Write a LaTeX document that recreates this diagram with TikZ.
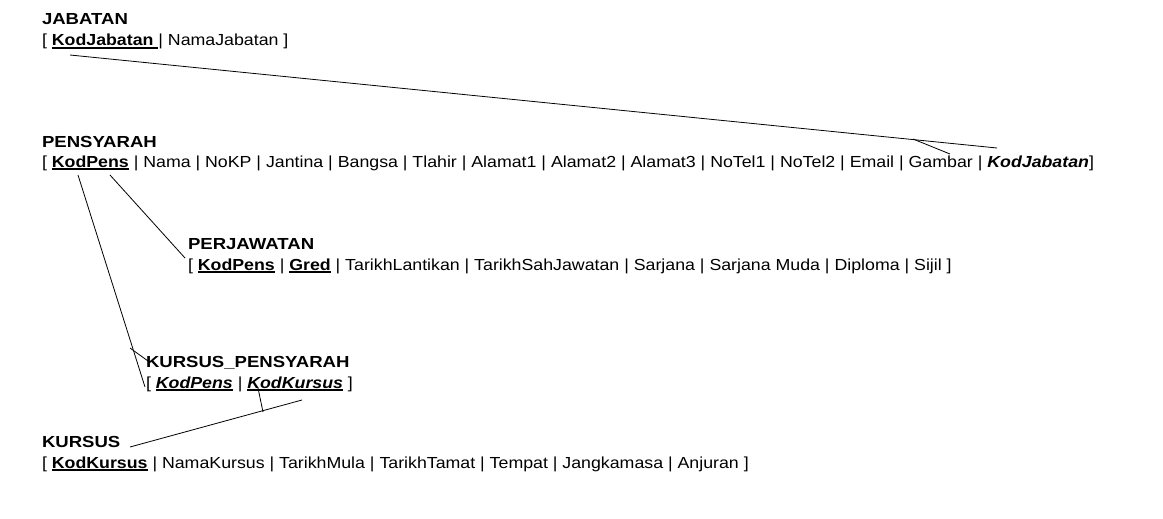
\documentclass[tikz,border=0pt]{standalone}
\usepackage{fontspec}
\setmainfont{Liberation Sans}[FakeStretch=1.11]
\newfontfamily\titlefont{Liberation Sans}[FakeStretch=1.16]
\usepackage{tikz}
\newsavebox{\keybox}
\newcommand{\keyline}[1]{\sbox{\keybox}{#1}\rlap{\rule[-2.8pt]{\wd\keybox}{1.6pt}}\usebox{\keybox}}
\newcommand{\pk}[1]{\keyline{\textbf{#1}}}
\newcommand{\fk}[1]{\textbf{\textit{#1}}}
\newcommand{\pfk}[1]{\keyline{\textbf{\textit{#1}}}}

\begin{document}
\begin{tikzpicture}[x=1pt,y=-1pt,
    every node/.style={inner sep=0pt,outer sep=0pt,anchor=base west,
      font=\fontsize{16}{19}\selectfont},
    tablename/.style={font=\fontsize{16}{19}\selectfont\titlefont\bfseries}]
		\useasboundingbox (0,0) rectangle (1163,519);
			  \node[tablename]          (jabTitle)   at (42,25)     {JABATAN};
			  \node                     (jabRow)     at (42,46)     {[ \pk{KodJabatan\ }| NamaJabatan ]};
			  \node[tablename]          (pensTitle)  at (42,147)    {PENSYARAH};
			  \node                     (pensRow)    at (42,167)    {[ \pk{KodPens} | Nama | NoKP | Jantina | Bangsa | Tlahir | Alamat1 | Alamat2 | Alamat3 | NoTel1 | NoTel2 | Email | Gambar | \fk{KodJabatan}]};
			  \node[tablename]          (perjTitle)  at (188,249)   {PERJAWATAN};
			  \node                     (perjRow)    at (188,270)   {[ \pk{KodPens} | \pk{Gred} | TarikhLantikan | TarikhSahJawatan | Sarjana | Sarjana Muda | Diploma | Sijil ]};
			  \node[tablename]          (kpTitle)    at (146,367)   {KURSUS\_PENSYARAH};
			  \node                     (kpRow)      at (146,388)   {[ \pfk{KodPens} | \pfk{KodKursus} ]};
			  \node[tablename]          (kurTitle)   at (42,447)    {KURSUS};
			  \node                     (kurRow)     at (42,468)    {[ \pk{KodKursus} | NamaKursus | TarikhMula | TarikhTamat | Tempat | Jangkamasa | Anjuran ]};

			  \coordinate (jabKey)     at (70,55);
			  \coordinate (jabMany)    at (997,148);
			  \coordinate (jabFork)    at (913,139);
			  \coordinate (jabToe)     at (950,154);
			  \coordinate (pensKeyA)   at (110,175);
			  \coordinate (perjMany)   at (185,258);
			  \coordinate (pensKeyB)   at (78,175);
			  \coordinate (kpMany)     at (145,387);
			  \coordinate (kpFork)     at (130,348);
			  \coordinate (kpToe)      at (148,361);
			  \coordinate (kurKey)     at (130,447);
			  \coordinate (kpEnd)      at (302,400);
			  \coordinate (kpHeel)     at (258,388);
			  \coordinate (kpSole)     at (263,412);

			\tikzset{relstyle/.style={-,line width=0.8pt,black}}

			\path (jabKey)   edge [relstyle]    node   {} (jabMany)
				  (jabFork)  edge [relstyle]    node   {} (jabToe)
				  (pensKeyA) edge [relstyle]    node   {} (perjMany)
				  (pensKeyB) edge [relstyle]    node   {} (kpMany)
				  (kpFork)   edge [relstyle]    node   {} (kpToe)
				  (kurKey)   edge [relstyle]    node   {} (kpEnd)
				  (kpHeel)   edge [relstyle]    node   {} (kpSole);
\end{tikzpicture}
\end{document}
